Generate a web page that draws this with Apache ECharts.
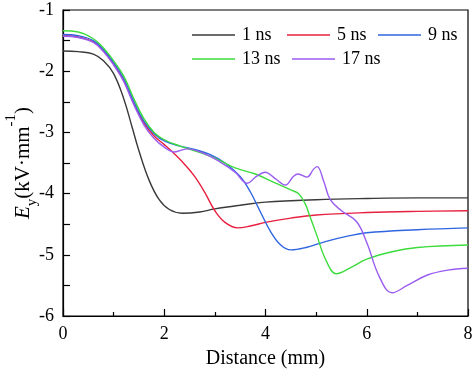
<!DOCTYPE html>
<html><head><meta charset="utf-8">
<script src="https://cdn.jsdelivr.net/npm/echarts@6/dist/echarts.min.js"></script>
<style>html,body{margin:0;padding:0;background:#fff}#c{width:474px;height:369px}</style>
</head><body><div id="c"></div>
<script>
const seriesNames = ['1 ns', '5 ns', '9 ns', '13 ns', '17 ns'];
const colors = ['#3a3a3a', '#e8203f', '#2f66e0', '#3ddc3d', '#9a5cf0'];

const x1 = [0,0.3,0.6,0.8,1.0,1.2,1.36,1.5,1.7,1.9,2.1,2.35,2.7,3.0,3.5,4.0,5.0,6.0,7.0,8.0];
const y1 = [-1.67,-1.68,-1.72,-1.83,-2.04,-2.45,-2.9,-3.3,-3.78,-4.1,-4.26,-4.32,-4.3,-4.25,-4.19,-4.14,-4.1,-4.08,-4.07,-4.07];

const x5 = [0,0.3,0.6,0.8,1.0,1.2,1.4,1.6,1.8,2.0,2.2,2.4,2.6,2.8,3.0,3.2,3.45,3.7,4.0,4.5,5.0,6.0,7.0,8.0];
const y5 = [-1.42,-1.44,-1.52,-1.67,-1.88,-2.15,-2.52,-2.85,-3.06,-3.2,-3.35,-3.52,-3.72,-3.98,-4.28,-4.47,-4.56,-4.53,-4.47,-4.4,-4.35,-4.31,-4.29,-4.28];

const x9 = [0,0.3,0.6,0.8,1.0,1.2,1.4,1.6,1.8,2.0,2.3,2.6,2.9,3.2,3.5,3.7,3.9,4.1,4.3,4.5,4.8,5.2,5.6,6.0,7.0,8.0];
const y9 = [-1.4,-1.42,-1.5,-1.65,-1.86,-2.12,-2.5,-2.82,-3.02,-3.14,-3.22,-3.28,-3.36,-3.5,-3.72,-3.97,-4.3,-4.62,-4.84,-4.92,-4.88,-4.78,-4.7,-4.64,-4.59,-4.56];

const x13 = [0,0.3,0.6,0.8,1.0,1.2,1.4,1.6,1.8,2.0,2.3,2.6,3.0,3.4,3.8,4.2,4.5,4.65,4.78,4.88,5.0,5.2,5.4,5.7,6.0,6.5,7.0,8.0];
const y13 = [-1.34,-1.36,-1.47,-1.62,-1.83,-2.08,-2.45,-2.78,-3.0,-3.12,-3.22,-3.3,-3.42,-3.58,-3.68,-3.83,-3.94,-4.0,-4.16,-4.38,-4.65,-5.1,-5.31,-5.2,-5.07,-4.95,-4.88,-4.84];

const x17 = [0,0.3,0.6,0.8,1.0,1.2,1.4,1.6,1.8,2.0,2.2,2.45,2.8,3.1,3.4,3.64,3.82,3.99,4.2,4.39,4.55,4.64,4.82,4.95,5.02,5.15,5.28,5.5,5.8,6.0,6.25,6.5,6.8,7.2,7.6,8.0];
const y17 = [-1.43,-1.45,-1.53,-1.68,-1.9,-2.17,-2.55,-2.88,-3.1,-3.24,-3.32,-3.27,-3.35,-3.48,-3.65,-3.83,-3.72,-3.65,-3.76,-3.86,-3.72,-3.68,-3.73,-3.6,-3.56,-3.8,-4.1,-4.28,-4.46,-4.8,-5.36,-5.62,-5.5,-5.33,-5.25,-5.22];

const xTicks = [0, 2, 4, 6, 8];
const yTicks = [-6, -5, -4, -3, -2, -1];

const xs = [x1, x5, x9, x13, x17];
const ys = [y1, y5, y9, y13, y17];

const font = 'Liberation Serif';
const legendLeft = [192, 287, 378, 192, 292];
const legendTop = [26, 26, 26, 50, 50];

const chart = echarts.init(document.getElementById('c'), null, {renderer: 'canvas'});
chart.setOption({
  animation: false,
  grid: {left: 63, right: 6, top: 10, bottom: 53, containLabel: false, outerBoundsMode: 'none',
    show: true, borderColor: '#000', borderWidth: 1.2},
  legend: seriesNames.map((n, i) => ({
    data: [n], left: legendLeft[i], top: legendTop[i], padding: 0,
    icon: 'rect', itemWidth: 43, itemHeight: 1.5, itemGap: 7,
    textStyle: {fontFamily: font, fontSize: 18, color: '#000', padding: [0, 0, 0, 2]}
  })),
  xAxis: {
    type: 'value', min: 0, max: 8, interval: 2,
    name: 'Distance (mm)', nameLocation: 'middle', nameGap: 33, nameMoveOverlap: false,
    nameTextStyle: {fontFamily: font, fontSize: 20, color: '#000'},
    axisLine: {lineStyle: {color: '#000', width: 1.2}},
    axisTick: {inside: true, length: 7, lineStyle: {color: '#000', width: 1.2}},
    minorTick: {show: true, splitNumber: 2, length: 4, lineStyle: {color: '#000', width: 1.2}},
    axisLabel: {fontFamily: font, fontSize: 18, color: '#000', margin: 9,
      formatter: v => xTicks.includes(v) ? String(v) : ''},
    splitLine: {show: false}
  },
  yAxis: {
    type: 'value', min: -6, max: -1, interval: 1,
    name: '{i|E}{sub|y}{n|(kV·mm}{sup|-1}{n|)}', nameLocation: 'middle', nameGap: 27, nameRotate: 90,
    nameMoveOverlap: false,
    nameTextStyle: {fontFamily: font, fontSize: 21, color: '#000',
      rich: {
        i: {fontFamily: font, fontSize: 21, fontStyle: 'italic', color: '#000', lineHeight: 26},
        n: {fontFamily: font, fontSize: 21, color: '#000', lineHeight: 26},
        sub: {fontFamily: font, fontSize: 15, color: '#000', verticalAlign: 'bottom', lineHeight: 15, padding: [0, 0, -4, 0]},
        sup: {fontFamily: font, fontSize: 15, color: '#000', verticalAlign: 'top', lineHeight: 15, padding: [-6, 0, 0, 0]}
      }},
    axisLine: {lineStyle: {color: '#000', width: 1.2}},
    axisTick: {inside: true, length: 7, lineStyle: {color: '#000', width: 1.2}},
    minorTick: {show: true, splitNumber: 2, length: 7, lineStyle: {color: '#000', width: 1.2}},
    axisLabel: {fontFamily: font, fontSize: 18, color: '#000', margin: 9,
      formatter: v => yTicks.includes(v) ? String(v) : ''},
    splitLine: {show: false}
  },
  series: seriesNames.map((n, i) => ({
    name: n, type: 'line', smooth: 0.4, showSymbol: false, symbol: 'none',
    lineStyle: {color: colors[i], width: 1.4}, itemStyle: {color: colors[i]},
    data: xs[i].map((x, j) => [x, ys[i][j]])
  }))
});
</script></body></html>
